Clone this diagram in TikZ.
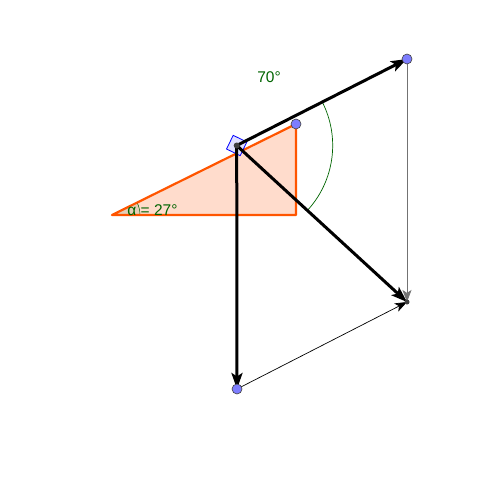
\documentclass[tikz,border=0pt]{standalone}
\usepackage{fontspec}
\setmainfont{Liberation Sans}
\usetikzlibrary{arrows.meta,calc}
\definecolor{trifill}{RGB}{255,220,204}
\definecolor{triedge}{RGB}{255,85,0}
\definecolor{ggreen}{RGB}{0,100,0}
\definecolor{ptblue}{RGB}{125,125,255}
\definecolor{sqfill}{RGB}{225,225,255}
\begin{document}
\begin{tikzpicture}[x=1pt,y=-1pt,
  vec/.style={line width=3pt,-{Stealth[length=16pt,width=11pt,inset=3.5pt]}},
  thinvec/.style={line width=0.7pt,-{Stealth[length=12pt,width=9pt,inset=3pt]}},
  pt/.style={circle,fill=ptblue,draw=black!75,line width=0.6pt,inner sep=0pt,minimum size=10pt},
  smallpt/.style={circle,fill=black!75,inner sep=0pt,minimum size=6pt},
  lbl/.style={text=ggreen,font=\fontsize{15.5}{18}\selectfont,inner sep=0pt},
  triline/.style={draw=triedge,line width=2.2pt,line join=round}]
\useasboundingbox (0,0) rectangle (500,500);
\coordinate (T1) at (112,215);
\coordinate (T2) at (296,215);
\coordinate (D) at (296,124);
\coordinate (O) at (236.7,145.5);
\coordinate (A) at (407,59);
\coordinate (B) at (407,302);
\coordinate (C) at (237,389);
% triangle
\fill[trifill] (T1) -- (T2) -- (D) -- cycle;
\fill[ggreen,opacity=0.1] (T1) -- ++(0:28) arc[start angle=0,end angle=-26.3,radius=28] -- cycle;
\draw[ggreen,line width=0.5pt] (T1) ++(0:28) arc[start angle=0,end angle=-26.3,radius=28];
\draw[triline] (T1) -- (T2) -- (D) -- cycle;
% angle arc at O
\draw[ggreen,line width=0.7pt] (O) ++(-27.1:96) arc[start angle=-27.1,end angle=42.5,radius=96];
% square marker
\draw[blue,fill=sqfill,line width=0.8pt,rotate around={-26:(O)}] ($(O)+(-7.6,-7.6)$) rectangle ($(O)+(7.6,7.6)$);
% thin vectors
\draw[thinvec,draw=black!55,fill=black!80] (A) -- (B);
\draw[thinvec] (C) -- (B);
% thick vectors
\draw[vec] (O) -- (A);
\draw[vec] (O) -- (C);
\draw[vec] (O) -- (B);
% points
\node[smallpt] (o) at (O) {};
\node[pt] (a) at (A) {};
\node[pt] (c) at (C) {};
\node[pt] (d) at (D) {};
\node[smallpt,minimum size=5pt] (b) at (B) {};
% labels
\node[lbl] (l70) at (269,77) {70°};
\node[lbl] (lalpha) at (152.5,210) {α = 27°};
\end{tikzpicture}
\end{document}
